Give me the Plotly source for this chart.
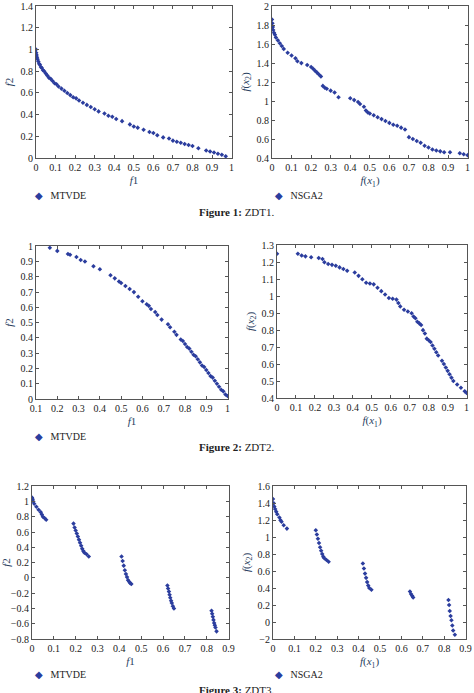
import plotly.graph_objects as go

# ZDT1
z1_mtvde_x = [0,0.001,0.003,0.005,0.008,0.012,0.016,0.02,0.025,0.03,0.036,0.042,0.05,0.058,0.066,0.075,0.085,0.095,0.105,0.115,0.13,0.145,0.16,0.175,0.19,0.205,0.22,0.24,0.26,0.28,0.3,0.32,0.35,0.37,0.39,0.41,0.44,0.48,0.5,0.52,0.55,0.58,0.6,0.62,0.65,0.68,0.7,0.72,0.74,0.76,0.78,0.8,0.83,0.87,0.89,0.91,0.93,0.95,0.97]
z1_mtvde_y = [1,0.97,0.95,0.93,0.91,0.89,0.87,0.86,0.84,0.83,0.81,0.80,0.78,0.76,0.74,0.73,0.71,0.69,0.68,0.66,0.64,0.62,0.60,0.58,0.56,0.55,0.53,0.51,0.49,0.47,0.45,0.43,0.41,0.39,0.38,0.36,0.34,0.31,0.29,0.28,0.26,0.24,0.23,0.21,0.19,0.18,0.16,0.15,0.14,0.13,0.12,0.11,0.09,0.07,0.06,0.05,0.04,0.03,0.015]
z1_nsga_x = [0,0.002,0.004,0.006,0.01,0.015,0.02,0.03,0.04,0.05,0.06,0.08,0.1,0.12,0.13,0.15,0.18,0.2,0.21,0.22,0.23,0.24,0.25,0.26,0.27,0.28,0.3,0.32,0.34,0.4,0.42,0.44,0.45,0.47,0.48,0.49,0.5,0.52,0.54,0.56,0.58,0.6,0.62,0.64,0.66,0.68,0.7,0.72,0.74,0.76,0.78,0.8,0.82,0.84,0.86,0.88,0.91,0.96,0.98,1.0]
z1_nsga_y = [1.86,1.82,1.78,1.75,1.72,1.70,1.67,1.64,1.61,1.58,1.55,1.51,1.48,1.45,1.42,1.40,1.38,1.36,1.34,1.32,1.30,1.28,1.26,1.16,1.14,1.13,1.11,1.09,1.04,1.03,1.01,0.99,0.97,0.94,0.90,0.88,0.87,0.85,0.83,0.81,0.79,0.77,0.75,0.74,0.72,0.70,0.62,0.60,0.58,0.56,0.53,0.51,0.49,0.48,0.47,0.46,0.46,0.45,0.44,0.43]
# ZDT2
z2_mtvde_x = [0.165,0.2,0.25,0.26,0.29,0.31,0.33,0.37,0.4,0.45,0.47,0.49,0.5,0.52,0.54,0.56,0.58,0.6,0.62,0.63,0.64,0.66,0.67,0.69,0.72,0.73,0.75,0.76,0.78,0.79,0.8,0.81,0.82,0.83,0.84,0.85,0.86,0.87,0.88,0.89,0.9,0.91,0.92,0.93,0.94,0.95,0.96,0.97,0.98,0.99,1.0]
z2_mtvde_y = [0.99,0.97,0.95,0.945,0.93,0.91,0.90,0.87,0.85,0.81,0.79,0.77,0.76,0.74,0.72,0.70,0.67,0.64,0.62,0.61,0.59,0.57,0.55,0.52,0.49,0.47,0.44,0.42,0.39,0.38,0.36,0.34,0.33,0.31,0.29,0.28,0.26,0.24,0.22,0.21,0.19,0.17,0.15,0.14,0.12,0.10,0.08,0.06,0.05,0.03,0.02]
z2_nsga_x = [0,0.11,0.13,0.15,0.18,0.22,0.24,0.25,0.27,0.29,0.31,0.33,0.35,0.37,0.41,0.43,0.45,0.47,0.49,0.51,0.53,0.55,0.57,0.59,0.61,0.63,0.64,0.65,0.67,0.69,0.71,0.72,0.73,0.74,0.75,0.76,0.77,0.78,0.79,0.8,0.81,0.82,0.83,0.84,0.85,0.87,0.88,0.89,0.9,0.91,0.92,0.93,0.95,0.97,0.99,1.0]
z2_nsga_y = [1.25,1.25,1.24,1.235,1.23,1.225,1.22,1.20,1.19,1.185,1.18,1.17,1.16,1.15,1.14,1.12,1.10,1.08,1.075,1.07,1.05,1.03,1.01,0.99,0.985,0.98,0.96,0.94,0.92,0.91,0.90,0.88,0.87,0.85,0.84,0.83,0.80,0.78,0.75,0.74,0.73,0.71,0.69,0.67,0.65,0.62,0.60,0.58,0.56,0.54,0.52,0.50,0.48,0.46,0.44,0.43]
# ZDT3
z3_mtvde_x = [0,0.003,0.006,0.01,0.02,0.03,0.04,0.045,0.05,0.058,0.065,
              0.19,0.195,0.2,0.205,0.21,0.215,0.22,0.225,0.23,0.235,0.24,0.25,0.26,
              0.41,0.415,0.42,0.425,0.43,0.435,0.44,0.445,0.45,0.455,
              0.62,0.623,0.627,0.63,0.633,0.637,0.64,0.645,0.65,
              0.822,0.825,0.828,0.831,0.834,0.837,0.84,0.845]
z3_mtvde_y = [1.05,1.03,1.0,0.97,0.93,0.89,0.86,0.83,0.80,0.78,0.76,
              0.71,0.66,0.62,0.58,0.54,0.50,0.46,0.42,0.38,0.35,0.33,0.31,0.28,
              0.28,0.22,0.16,0.10,0.05,0.01,-0.03,-0.05,-0.07,-0.08,
              -0.10,-0.14,-0.18,-0.22,-0.26,-0.30,-0.33,-0.37,-0.40,
              -0.43,-0.47,-0.51,-0.55,-0.59,-0.62,-0.65,-0.70]
z3_nsga_x = [0,0.003,0.006,0.01,0.015,0.02,0.03,0.035,0.04,0.05,0.065,
             0.2,0.205,0.21,0.215,0.22,0.225,0.23,0.235,0.24,0.25,0.26,
             0.42,0.425,0.43,0.435,0.44,0.445,0.45,0.46,
             0.64,0.645,0.65,0.655,
             0.82,0.823,0.826,0.83,0.834,0.838,0.842,0.85]
z3_nsga_y = [1.45,1.40,1.36,1.33,1.30,1.27,1.23,1.20,1.18,1.14,1.10,
             1.08,1.03,0.98,0.93,0.88,0.84,0.80,0.77,0.75,0.73,0.71,
             0.69,0.63,0.57,0.52,0.47,0.43,0.40,0.38,
             0.36,0.33,0.31,0.29,
             0.26,0.20,0.13,0.07,0.02,-0.04,-0.10,-0.15]
z3_nsga_ticks = [-0.2,0,0.2,0.4,0.6,0.8,1,1.2,1.4,1.6]
z3_nsga_ticktext = ["−2","0","0.2","0.4","0.6","0.8","1","1.2","1.4","1.6"]

W, H = 474, 693
C = "#2b3d9e"
FONT = "Liberation Serif"
fig = go.Figure()

def X(p): return p / W
def Y(p): return 1 - p / H

e = 0.002
panels = [
    (z1_mtvde_x, z1_mtvde_y, (36, 232), (6, 158), [0, 1 + e], [0, 1.4 + e], 0.1, 0.2, "<i>f</i>1", "<i>f</i>2", None),
    (z1_nsga_x, z1_nsga_y, (272, 468), (6, 158), [0, 1 + e], [0.4, 2 + e], 0.1, 0.2, "<i>f</i>(<i>x</i><sub>1</sub>)", "<i>f</i>(<i>x</i><sub>2</sub>)", None),
    (z2_mtvde_x, z2_mtvde_y, (36, 228), (246, 399), [0.1, 1 + e], [0, 1 + e], 0.1, 0.1, "<i>f</i>1", "<i>f</i>2", None),
    (z2_nsga_x, z2_nsga_y, (277, 467), (245, 398), [0, 1 + e], [0.4, 1.3 + e], 0.1, 0.1, "<i>f</i>(<i>x</i><sub>1</sub>)", "<i>f</i>(<i>x</i><sub>2</sub>)", None),
    (z3_mtvde_x, z3_mtvde_y, (32, 229), (486, 639), [0, 0.9 + e], [-0.8, 1.2 + e], 0.1, 0.2, "<i>f</i>1", "<i>f</i>2", None),
    (z3_nsga_x, z3_nsga_y, (273, 466), (486, 639), [0, 0.9 + e], [-0.2, 1.6 + e], 0.1, 0.2, "<i>f</i>(<i>x</i><sub>1</sub>)", "<i>f</i>(<i>x</i><sub>2</sub>)", (z3_nsga_ticks, z3_nsga_ticktext)),
]

layout = {}
for i, (xs, ys, (x0, x1), (y0, y1), xr, yr, dx, dy, xt, yt, yticks) in enumerate(panels, start=1):
    sfx = "" if i == 1 else str(i)
    fig.add_trace(go.Scatter(x=xs, y=ys, mode="markers", xaxis="x" + sfx, yaxis="y" + sfx,
                             marker=dict(symbol="diamond", size=3.5, color=C), showlegend=False))
    ax = dict(showgrid=False, zeroline=False, showline=True, linecolor="#555", mirror="ticks",
              ticks="inside", ticklen=3, tickcolor="#555", automargin=False,
              tickfont=dict(family=FONT, size=10, color="#222"))
    layout["xaxis" + sfx] = dict(ax, domain=[X(x0), X(x1)], range=xr, dtick=dx, tick0=0, anchor="y" + sfx,
                                 title=dict(text=xt, standoff=4, font=dict(family=FONT, size=11)))
    ya = dict(ax, domain=[Y(y1), Y(y0)], range=yr, dtick=dy, tick0=0, anchor="x" + sfx,
              title=dict(text=yt, standoff=4, font=dict(family=FONT, size=11)))
    if yticks:
        ya.update(tickmode="array", tickvals=yticks[0], ticktext=yticks[1])
    layout["yaxis" + sfx] = ya

fig.update_layout(**layout)

def legend(px, py, name):
    fig.add_annotation(x=X(px), y=Y(py), xref="paper", yref="paper", xanchor="left", yanchor="middle",
                       showarrow=False, text=f"<span style='color:{C}'>◆</span>   {name}",
                       font=dict(family=FONT, size=10, color="#222"))

legend(33, 195, "MTVDE"); legend(273, 195, "NSGA2")
legend(33, 436, "MTVDE")
legend(33, 674, "MTVDE"); legend(273, 674, "NSGA2")

def caption(py, num, name):
    fig.add_annotation(x=0.5, y=Y(py), xref="paper", yref="paper", xanchor="center", yanchor="middle",
                       showarrow=False, text=f"<b>Figure {num}:</b> {name}.",
                       font=dict(family=FONT, size=11, color="#222"))

caption(212, 1, "ZDT1"); caption(447, 2, "ZDT2"); caption(690, 3, "ZDT3")

fig.update_layout(width=W, height=H, margin=dict(l=0, r=0, t=0, b=0),
                  plot_bgcolor="white", paper_bgcolor="white")
fig.write_html("out.html", config={"displayModeBar": False},
               post_script="document.body.style.margin='0';document.body.style.overflow='hidden';")
